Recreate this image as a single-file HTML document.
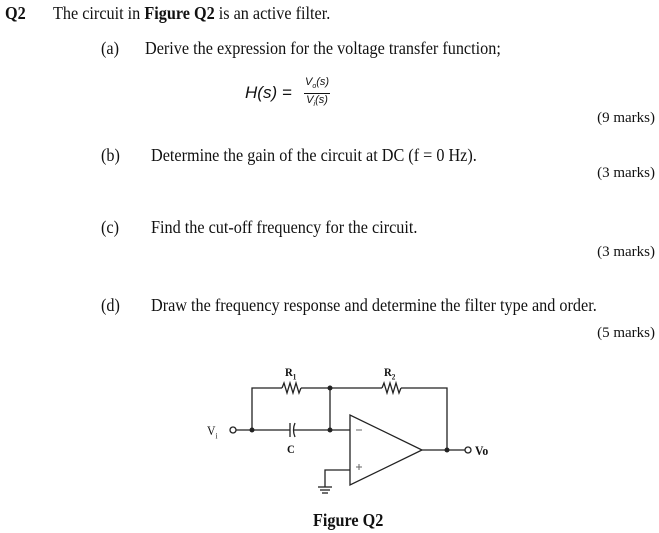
<!DOCTYPE html>
<html><head><style>
body{margin:0;width:659px;height:533px;background:#fff;position:relative;overflow:hidden;font-family:"Liberation Serif",serif;font-size:18px;color:#111}
.t{position:absolute;white-space:nowrap;line-height:1;transform-origin:left center;transform:scaleX(0.9)}
.r{position:absolute;white-space:nowrap;line-height:1;right:4px;font-size:15px}
</style></head><body>
<div class="t" style="left:5px;top:4px;font-weight:bold">Q2</div>
<div class="t" style="left:53px;top:4px">The circuit in <b>Figure Q2</b> is an active filter.</div>
<div class="t" style="left:101px;top:39px">(a)</div>
<div class="t" style="left:145px;top:39px">Derive the expression for the voltage transfer function;</div>
<div style="position:absolute;left:245px;top:83px;font-family:'Liberation Sans',sans-serif;font-style:italic;font-size:17px">H(s) =</div>
<div style="position:absolute;left:304px;top:76px;font-family:'Liberation Sans',sans-serif;font-style:italic;font-size:11px;text-align:center;line-height:13px">
<div style="border-bottom:1px solid #111;padding:0 1px">V<sub style="font-size:7px">o</sub>(s)</div><div>V<sub style="font-size:7px">i</sub>(s)</div></div>
<div class="r" style="top:111px">(9 marks)</div>
<div class="t" style="left:101px;top:146px">(b)</div>
<div class="t" style="left:151px;top:146px">Determine the gain of the circuit at DC (f = 0 Hz).</div>
<div class="r" style="top:166px">(3 marks)</div>
<div class="t" style="left:101px;top:218px">(c)</div>
<div class="t" style="left:151px;top:218px">Find the cut-off frequency for the circuit.</div>
<div class="r" style="top:245px">(3 marks)</div>
<div class="t" style="left:101px;top:296px">(d)</div>
<div class="t" style="left:151px;top:296px">Draw the frequency response and determine the filter type and order.</div>
<div class="r" style="top:326px">(5 marks)</div>

<svg width="659" height="533" style="position:absolute;left:0;top:0" stroke="#222" stroke-width="1.3" fill="none">
<polyline points="252,430 252,388 282,388"/>
<polyline points="282,388 284,383 287,393 290,383 293,393 296,383 299,393 301,388"/>
<polyline points="301,388 382,388"/>
<polyline points="382,388 384,383 387,393 390,383 393,393 396,383 399,393 401,388"/>
<polyline points="401,388 447,388 447,450"/>
<line x1="236" y1="430" x2="290" y2="430"/>
<line x1="290" y1="423" x2="290" y2="437"/>
<path d="M295,423 Q292,430 295,437"/>
<line x1="294" y1="430" x2="350" y2="430"/>
<line x1="330" y1="388" x2="330" y2="430"/>
<polygon points="350,415 350,485 422,450"/>
<line x1="422" y1="450" x2="465" y2="450"/>
<polyline points="350,470 325,470 325,487"/>
<line x1="318" y1="487" x2="332" y2="487"/>
<line x1="320" y1="490" x2="330" y2="490"/>
<line x1="322" y1="493" x2="328" y2="493"/>
<circle cx="233" cy="430" r="3"/>
<circle cx="468" cy="450" r="3"/>
<g fill="#222" stroke="none">
<circle cx="252" cy="430" r="2.5"/><circle cx="330" cy="388" r="2.5"/><circle cx="330" cy="430" r="2.5"/><circle cx="447" cy="450" r="2.5"/>
</g>
<g stroke="#666" stroke-width="1"><line x1="356" y1="430" x2="362" y2="430"/><line x1="356" y1="467" x2="362" y2="467"/><line x1="359" y1="464" x2="359" y2="470"/></g>
</svg>
<div class="t" style="left:285px;top:366px;font-size:12px;font-weight:bold">R<sub style="font-size:8px">1</sub></div>
<div class="t" style="left:384px;top:366px;font-size:12px;font-weight:bold">R<sub style="font-size:8px">2</sub></div>
<div class="t" style="left:287px;top:443px;font-size:12px;font-weight:bold">C</div>
<div class="t" style="left:207px;top:424px;font-size:13px">V<sub style="font-size:8px">i</sub></div>
<div class="t" style="left:475px;top:444px;font-size:13px;font-weight:bold">Vo</div>
<div class="t" style="left:313px;top:511px;font-weight:bold">Figure Q2</div>
</body></html>
